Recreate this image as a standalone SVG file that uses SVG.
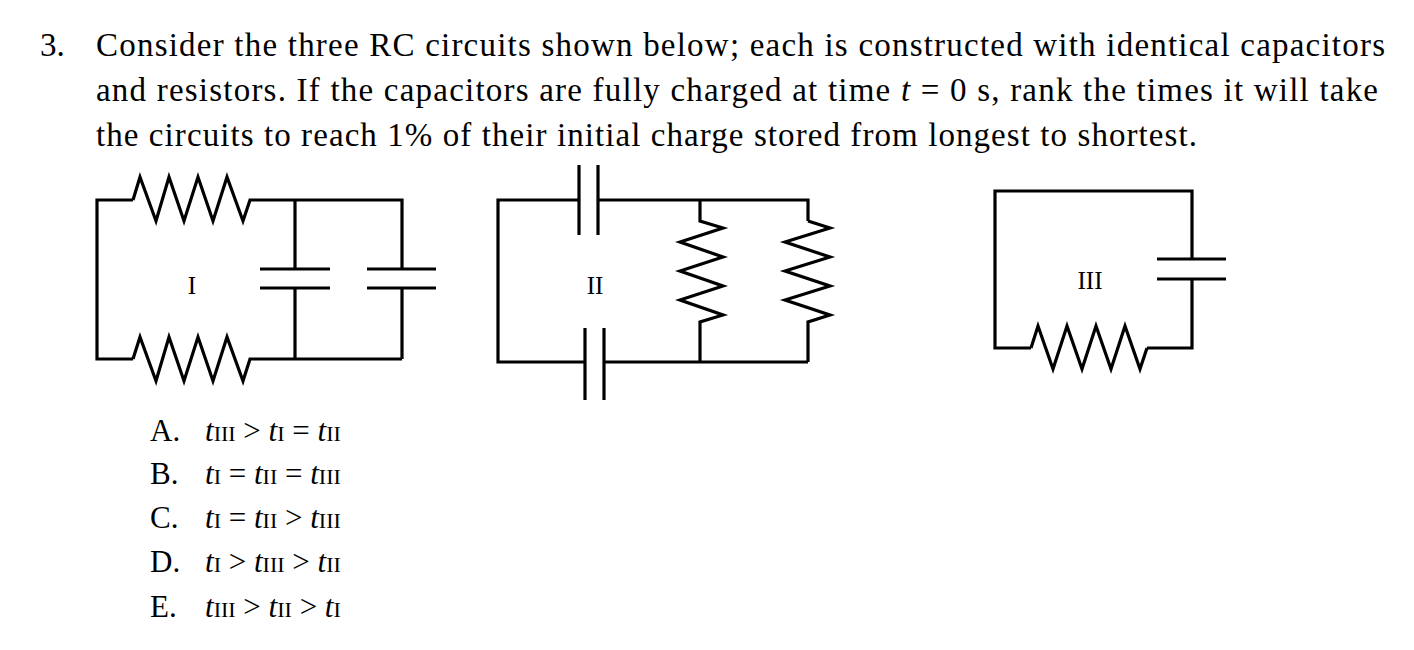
<svg xmlns="http://www.w3.org/2000/svg" width="1414" height="650" viewBox="0 0 1414 650">
<style>
text{font-family:"Liberation Serif","Times New Roman",serif;fill:#000}
.q{font-size:33px}
.a{font-size:31px}
.lb{font-size:25px}
.w{fill:none;stroke:#000;stroke-width:3.2;stroke-linejoin:miter}
.i{font-style:italic}
.s{font-size:22px}
</style>
<rect width="1414" height="650" fill="#fff"/>
<g id="question">
<text class="q" x="40" y="56">3.</text>
<text class="q" x="96" y="56" textLength="1289" lengthAdjust="spacing">Consider the three RC circuits shown below; each is constructed with identical capacitors</text>
<text class="q" x="96" y="101" textLength="1282" lengthAdjust="spacing">and resistors.  If the capacitors are fully charged at time <tspan class="i">t</tspan> = 0 s, rank the times it will take</text>
<text class="q" x="96" y="146" textLength="1101" lengthAdjust="spacing">the circuits to reach 1% of their initial charge stored from longest to shortest.</text>
</g>
<g id="circuit1">
<path class="w" d="M133,200 H97 V359 H133"/>
<path class="w" d="M133,200 L140,177 L156,221 L169,177 L184,221 L198,177 L213,221 L227,177 L243,221 L250,200 H402 V269"/>
<path class="w" d="M295,200 V269 M260,269 H330 M260,288 H330 M295,288 V359"/>
<path class="w" d="M367,269 H436 M367,288 H436 M402,288 V359"/>
<path class="w" d="M133,359 L140,337 L156,381 L169,337 L184,381 L198,337 L213,381 L227,337 L243,381 L250,359 H402"/>
<text class="lb" x="192" y="294" text-anchor="middle">I</text>
</g>
<g id="circuit2">
<path class="w" d="M579,200 H498 V362 H585"/>
<path class="w" d="M579,165 V235 M598,165 V235"/>
<path class="w" d="M598,200 H808 V221"/>
<path class="w" d="M700,200 V221 L723,228 L680,242 L723,257 L680,271 L723,286 L680,300 L723,315 L700,322 V362"/>
<path class="w" d="M808,221 L830,228 L785,242 L830,257 L785,271 L830,286 L785,300 L830,315 L808,322 V362"/>
<path class="w" d="M585,328 V400 M604,328 V400 M604,362 H808"/>
<text class="lb" x="595" y="294" text-anchor="middle">II</text>
</g>
<g id="circuit3">
<path class="w" d="M1031,348 H995 V191 H1192 V259"/>
<path class="w" d="M1157,259 H1226 M1157,279 H1226 M1192,279 V348 H1147"/>
<path class="w" d="M1031,348 L1038,326 L1053,369 L1067,326 L1082,369 L1096,326 L1111,369 L1125,326 L1140,369 L1147,348"/>
<text class="lb" x="1090" y="289" text-anchor="middle">III</text>
</g>
<g id="answers">
<text class="a" x="150" y="441">A.</text>
<text class="a" x="205" y="441"><tspan class="i">t</tspan><tspan class="s">III</tspan> &gt; <tspan class="i">t</tspan><tspan class="s">I</tspan> = <tspan class="i">t</tspan><tspan class="s">II</tspan></text>
<text class="a" x="150" y="484">B.</text>
<text class="a" x="205" y="484"><tspan class="i">t</tspan><tspan class="s">I</tspan> = <tspan class="i">t</tspan><tspan class="s">II</tspan> = <tspan class="i">t</tspan><tspan class="s">III</tspan></text>
<text class="a" x="150" y="528">C.</text>
<text class="a" x="205" y="528"><tspan class="i">t</tspan><tspan class="s">I</tspan> = <tspan class="i">t</tspan><tspan class="s">II</tspan> &gt; <tspan class="i">t</tspan><tspan class="s">III</tspan></text>
<text class="a" x="150" y="572">D.</text>
<text class="a" x="205" y="572"><tspan class="i">t</tspan><tspan class="s">I</tspan> &gt; <tspan class="i">t</tspan><tspan class="s">III</tspan> &gt; <tspan class="i">t</tspan><tspan class="s">II</tspan></text>
<text class="a" x="150" y="617">E.</text>
<text class="a" x="205" y="617"><tspan class="i">t</tspan><tspan class="s">III</tspan> &gt; <tspan class="i">t</tspan><tspan class="s">II</tspan> &gt; <tspan class="i">t</tspan><tspan class="s">I</tspan></text>
</g>
</svg>
